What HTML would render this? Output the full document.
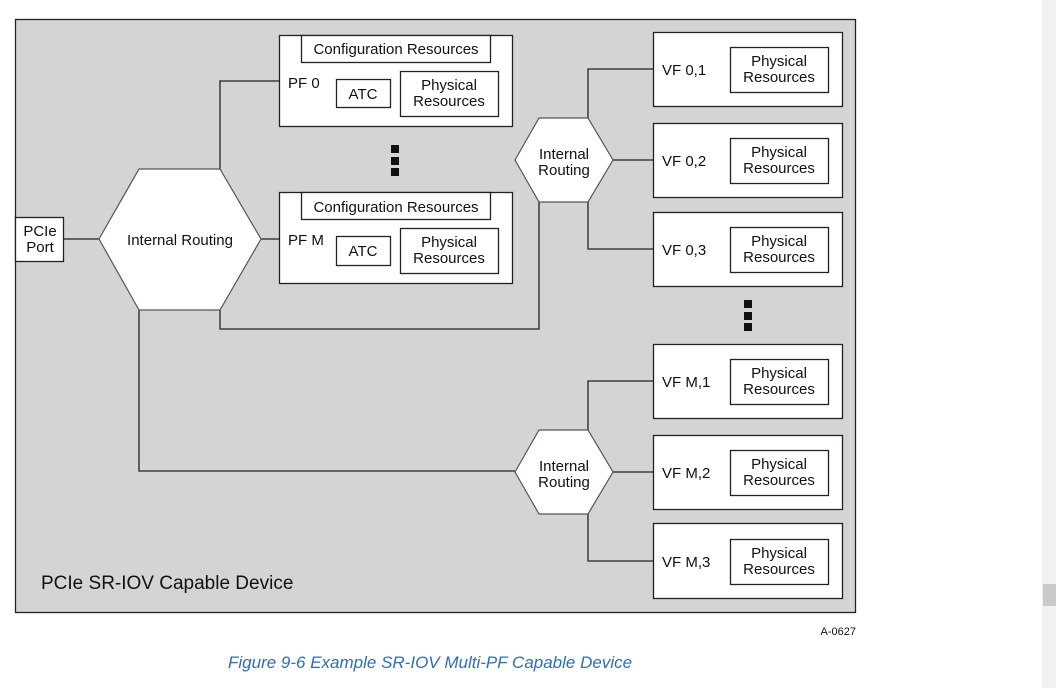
<!DOCTYPE html>
<html><head><meta charset="utf-8"><style>
html,body{margin:0;padding:0;background:#fff;width:1056px;height:688px;overflow:hidden}
svg{display:block}
text{font-family:"Liberation Sans",Arial,sans-serif;fill:#111}
</style></head><body>
<svg width="1056" height="688" viewBox="0 0 1056 688" xmlns="http://www.w3.org/2000/svg">
<rect x="1042" y="0" width="14" height="688" fill="#f1f1f1"/>
<rect x="1043" y="584" width="13" height="22" fill="#c9c9c9"/>
<rect x="15.5" y="19.5" width="840" height="593" fill="#d3d4d6" stroke="#222" stroke-width="1.3"/>
<g fill="none" stroke="#222" stroke-width="1.3">
<polyline points="64,239 99,239"/>
<polyline points="261,239 279,239"/>
<polyline points="220,169 220,81 279,81"/>
<polyline points="220,310 220,329 539,329 539,202"/>
<polyline points="139,310 139,471 515,471"/>
<polyline points="588,118 588,69 653,69"/>
<polyline points="613,160 653,160"/>
<polyline points="588,202 588,249 653,249"/>
<polyline points="588,430 588,381 653,381"/>
<polyline points="613,472 653,472"/>
<polyline points="588,514 588,561 653,561"/>
</g>
<g fill="#fff" stroke="#555" stroke-width="1.2">
<polygon points="99,239 139,169 220,169 261,239 220,310 139,310"/>
<polygon points="515,160 539,118 588,118 613,160 588,202 539,202"/>
<polygon points="515,472 539,430 588,430 613,472 588,514 539,514"/>
</g>
<g fill="#fff" stroke="#222" stroke-width="1.3">
<rect x="15.5" y="217.5" width="48" height="44"/>
<rect x="279.5" y="35.5" width="233" height="91"/>
<rect x="301.5" y="35.5" width="189" height="27"/>
<rect x="336.5" y="79.5" width="54" height="28"/>
<rect x="400.5" y="71.5" width="98" height="45"/>
<rect x="279.5" y="192.5" width="233" height="91"/>
<rect x="301.5" y="192.5" width="189" height="27"/>
<rect x="336.5" y="236.5" width="54" height="29"/>
<rect x="400.5" y="228.5" width="98" height="45"/>
<rect x="653.5" y="32.5" width="189" height="74"/>
<rect x="730.5" y="47.5" width="98" height="45"/>
<rect x="653.5" y="123.5" width="189" height="74"/>
<rect x="730.5" y="138.5" width="98" height="45"/>
<rect x="653.5" y="212.5" width="189" height="74"/>
<rect x="730.5" y="227.5" width="98" height="45"/>
<rect x="653.5" y="344.5" width="189" height="74"/>
<rect x="730.5" y="359.5" width="98" height="45"/>
<rect x="653.5" y="435.5" width="189" height="74"/>
<rect x="730.5" y="450.5" width="98" height="45"/>
<rect x="653.5" y="523.5" width="189" height="75"/>
<rect x="730.5" y="539.5" width="98" height="45"/>
</g>
<g fill="#111">
<rect x="391" y="145" width="8" height="8"/><rect x="391" y="157" width="8" height="8"/><rect x="391" y="168" width="8" height="8"/>
<rect x="744" y="300" width="8" height="8"/><rect x="744" y="312" width="8" height="8"/><rect x="744" y="323" width="8" height="8"/>
</g>
<g font-size="15">
<text x="40" y="236" text-anchor="middle">PCIe</text>
<text x="40" y="252" text-anchor="middle">Port</text>
<text x="180" y="245" text-anchor="middle">Internal Routing</text>
<text x="396" y="54" text-anchor="middle">Configuration Resources</text>
<text x="288" y="88">PF 0</text>
<text x="363" y="99" text-anchor="middle">ATC</text>
<text x="449" y="90" text-anchor="middle">Physical</text>
<text x="449" y="106" text-anchor="middle">Resources</text>
<text x="396" y="212" text-anchor="middle">Configuration Resources</text>
<text x="288" y="245">PF M</text>
<text x="363" y="256" text-anchor="middle">ATC</text>
<text x="449" y="247" text-anchor="middle">Physical</text>
<text x="449" y="263" text-anchor="middle">Resources</text>
<text x="564" y="159" text-anchor="middle">Internal</text>
<text x="564" y="175" text-anchor="middle">Routing</text>
<text x="564" y="471" text-anchor="middle">Internal</text>
<text x="564" y="487" text-anchor="middle">Routing</text>
<text x="662" y="75">VF 0,1</text>
<text x="662" y="166">VF 0,2</text>
<text x="662" y="255">VF 0,3</text>
<text x="662" y="387">VF M,1</text>
<text x="662" y="478">VF M,2</text>
<text x="662" y="567">VF M,3</text>
<g text-anchor="middle">
<text x="779" y="66">Physical</text><text x="779" y="82">Resources</text>
<text x="779" y="157">Physical</text><text x="779" y="173">Resources</text>
<text x="779" y="246">Physical</text><text x="779" y="262">Resources</text>
<text x="779" y="378">Physical</text><text x="779" y="394">Resources</text>
<text x="779" y="469">Physical</text><text x="779" y="485">Resources</text>
<text x="779" y="558">Physical</text><text x="779" y="574">Resources</text>
</g>
</g>
<text x="41" y="589" font-size="19">PCIe SR-IOV Capable Device</text>
<text x="856" y="635" font-size="11" text-anchor="end">A-0627</text>
<text x="228" y="668" font-size="17" font-style="italic" style="fill:#2f6db5">Figure  9-6  Example SR-IOV Multi-PF Capable Device</text>
</svg>
</body></html>
